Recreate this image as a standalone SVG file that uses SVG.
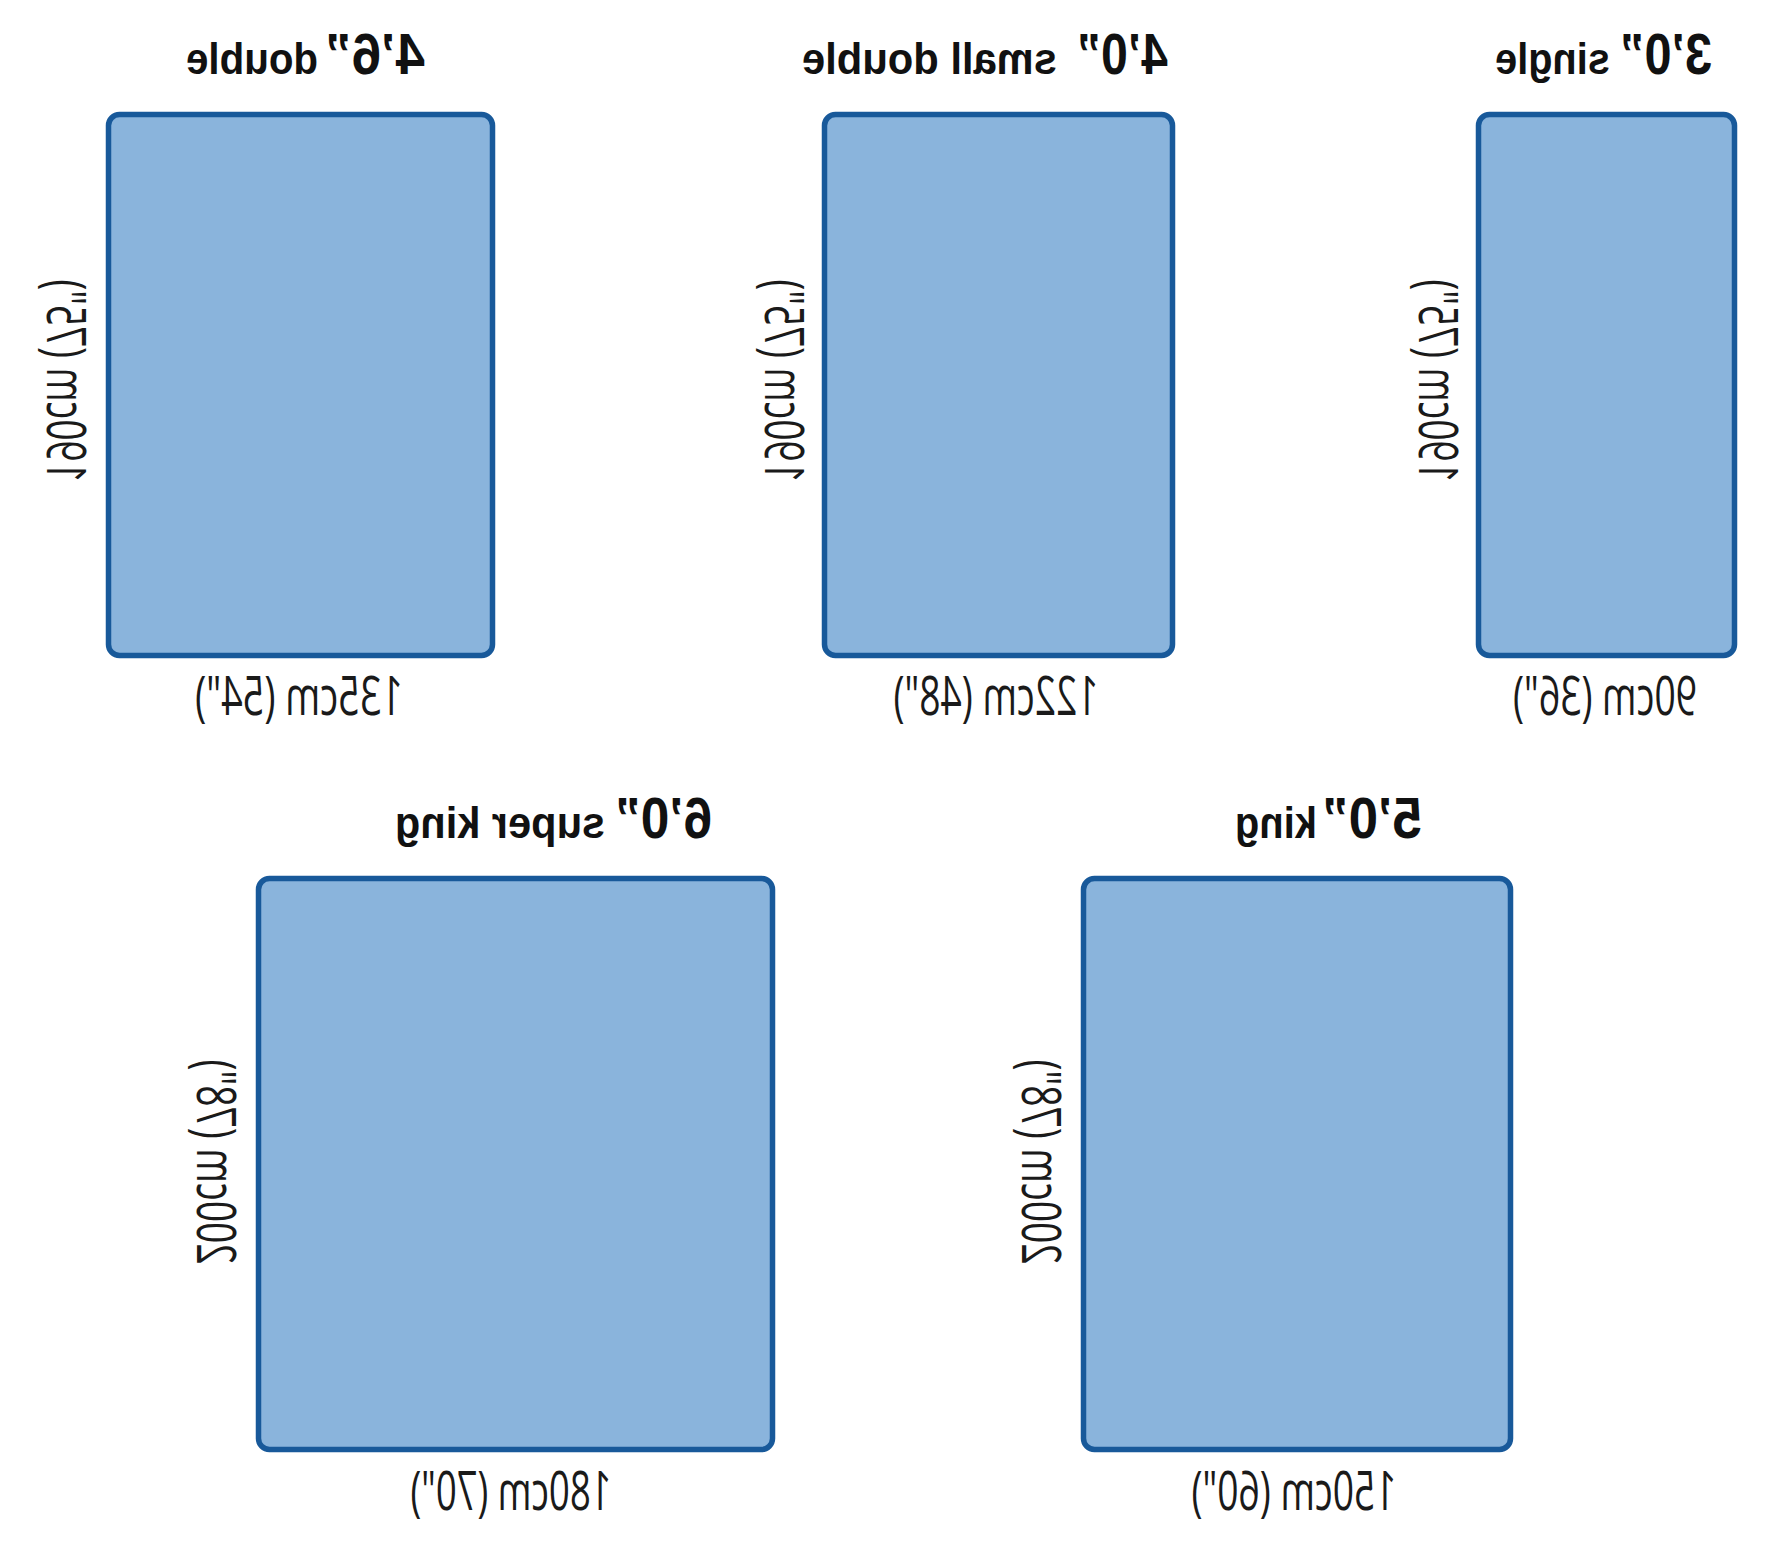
<svg xmlns="http://www.w3.org/2000/svg" width="1787" height="1554" viewBox="0 0 1787 1554">
<style>
.bed{fill:#8ab4dc;stroke:#18599a;stroke-width:5.5}
.w{font-family:"Liberation Sans",Arial,sans-serif;font-weight:bold;font-size:44px;fill:#111}
.n{font-family:"Liberation Sans",Arial,sans-serif;font-weight:bold;font-size:58px;fill:#111}
.d{font-family:"Open Sans","Noto Sans",sans-serif;font-size:54px;fill:#1a1a1a;text-anchor:middle}
</style>
<rect width="1787" height="1554" fill="#fff"/>
<g id="double">
<rect class="bed" x="108.5" y="114.5" width="384" height="541" rx="11"/>
<g transform="translate(425,74) scale(-1,1)"><text class="n" x="0" y="0" textLength="100" lengthAdjust="spacingAndGlyphs">4’6”</text><text class="w" x="107" y="0" textLength="132" lengthAdjust="spacingAndGlyphs">double</text></g>
<g transform="translate(299,715) scale(-1,1)"><text class="d" textLength="208" lengthAdjust="spacingAndGlyphs">135cm (54")</text></g>
<g transform="translate(47,381) scale(-1,1) rotate(-90)"><text class="d" textLength="203" lengthAdjust="spacingAndGlyphs">190cm (75")</text></g>
</g>
<g id="small-double">
<rect class="bed" x="824.5" y="114.5" width="348" height="541" rx="11"/>
<g transform="translate(1168,74) scale(-1,1)"><text class="n" x="0" y="0" textLength="91" lengthAdjust="spacingAndGlyphs">4’0”</text><text class="w" x="111" y="0" textLength="255" lengthAdjust="spacingAndGlyphs">small double</text></g>
<g transform="translate(996,715) scale(-1,1)"><text class="d" textLength="205" lengthAdjust="spacingAndGlyphs">122cm (48")</text></g>
<g transform="translate(765,381) scale(-1,1) rotate(-90)"><text class="d" textLength="203" lengthAdjust="spacingAndGlyphs">190cm (75")</text></g>
</g>
<g id="single">
<rect class="bed" x="1478.5" y="114.5" width="256" height="541" rx="11"/>
<g transform="translate(1712,74) scale(-1,1)"><text class="n" x="0" y="0" textLength="92" lengthAdjust="spacingAndGlyphs">3’0”</text><text class="w" x="102" y="0" textLength="115" lengthAdjust="spacingAndGlyphs">single</text></g>
<g transform="translate(1605,715) scale(-1,1)"><text class="d" textLength="184" lengthAdjust="spacingAndGlyphs">90cm (36")</text></g>
<g transform="translate(1419,381) scale(-1,1) rotate(-90)"><text class="d" textLength="203" lengthAdjust="spacingAndGlyphs">190cm (75")</text></g>
</g>
<g id="super-king">
<rect class="bed" x="258.5" y="878.5" width="514" height="571" rx="11"/>
<g transform="translate(712,838) scale(-1,1)"><text class="n" x="0" y="0" textLength="97" lengthAdjust="spacingAndGlyphs">6’0”</text><text class="w" x="107" y="0" textLength="210" lengthAdjust="spacingAndGlyphs">super king</text></g>
<g transform="translate(511,1510) scale(-1,1)"><text class="d" textLength="201" lengthAdjust="spacingAndGlyphs">180cm (70")</text></g>
<g transform="translate(197,1162) scale(-1,1) rotate(-90)"><text class="d" textLength="205" lengthAdjust="spacingAndGlyphs">200cm (78")</text></g>
</g>
<g id="king">
<rect class="bed" x="1083.5" y="878.5" width="427" height="571" rx="11"/>
<g transform="translate(1422,838) scale(-1,1)"><text class="n" x="0" y="0" textLength="100" lengthAdjust="spacingAndGlyphs">5’0”</text><text class="w" x="105" y="0" textLength="82" lengthAdjust="spacingAndGlyphs">king</text></g>
<g transform="translate(1294,1510) scale(-1,1)"><text class="d" textLength="205" lengthAdjust="spacingAndGlyphs">150cm (60")</text></g>
<g transform="translate(1022,1162) scale(-1,1) rotate(-90)"><text class="d" textLength="205" lengthAdjust="spacingAndGlyphs">200cm (78")</text></g>
</g>
<g id="connectors"/>
</svg>
